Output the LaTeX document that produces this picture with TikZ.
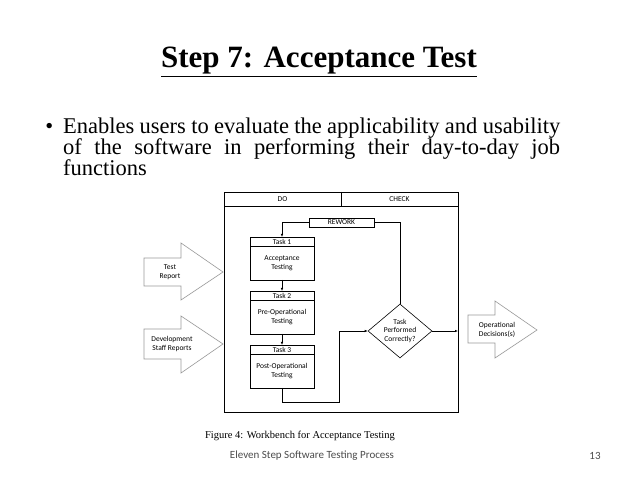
\documentclass[tikz,border=0pt]{standalone}
\usepackage{fontspec}
\setmainfont{Liberation Serif}
\newfontfamily\dgf{Carlito}
\usetikzlibrary{shapes.geometric,arrows.meta}
\begin{document}
\begin{tikzpicture}[x=1pt,y=-1pt,
  box/.style={draw,line width=0.6pt},
  dtxt/.style={font=\dgf\fontsize{7.5}{8.5}\selectfont,align=center,inner sep=0},
  conn/.style={line width=0.6pt,-{Latex[length=3pt,width=2.5pt]}},
  bigarrow/.style={draw=gray!80,line width=0.6pt,fill=white}]
\useasboundingbox[fill=white] (0,0) rectangle (638,478);
\node[font=\bfseries\fontsize{31}{34}\selectfont] (title) at (319,62) {\underline{Step 7: Acceptance Test}};
\node[anchor=north west,inner sep=0,text width=497pt,align=justify,font=\fontsize{22.5}{21}\selectfont] (bul) at (63,118)
 {\hyphenpenalty=10000\makebox[0pt][r]{\textbullet\hspace{10pt}}Enables users to evaluate the applicability and usability\linebreak of the software in performing their day-to-day job\linebreak functions};
% outer
\draw[box] (224,192) rectangle (458,412);
\draw[box] (224,206) -- (458,206) (341,192) -- (341,206);
\node[dtxt] (do) at (282.5,199) {DO};
\node[dtxt] (check) at (399.5,199) {CHECK};
% rework
\node[box,dtxt,minimum width=65pt,minimum height=9pt] (rw) at (341.5,222.5) {REWORK};
% tasks
\foreach \n/\y/\t in {1/237/{Acceptance\\Testing},2/291/{Pre-Operational\\Testing},3/345/{Post-Operational\\Testing}}{
  \draw[box] (250,\y) rectangle (314,\y+43);
  \draw[box] (250,\y+9) -- (314,\y+9);
  \node[dtxt] (h\n) at (282,\y+4.5) {Task \n};
  \node[dtxt] (b\n) at (282,\y+26) {\t};
  \coordinate (t\n) at (282,\y);
  \coordinate (e\n) at (282,\y+43);
}
\node[draw,line width=0.6pt,diamond,aspect=1.2,minimum width=64pt,minimum height=54pt,inner sep=0] (dia) at (400,331) {};
\node[dtxt] (diat) at (400,331) {Task\\Performed\\Correctly?};
\draw[conn] (e1) -- (t2);
\draw[conn] (e2) -- (t3);
\draw[line width=0.6pt] (dia.north) |- (rw.east);
\draw[conn] (rw.west) -| (t1);
\draw[conn] (e3) |- (339,402) |- (dia.west);
\coordinate (rb) at (458,331);
\draw[conn] (dia.east) -- (rb);
% big arrows
\draw[bigarrow] (144,258) -- (181,258) -- (181,243) -- (223,272) -- (181,300) -- (181,286) -- (144,286) -- cycle;
\node[dtxt] (tr) at (170,272) {Test\\Report};
\draw[bigarrow] (144,329) -- (181,329) -- (181,316) -- (223,344) -- (181,373) -- (181,359) -- (144,359) -- cycle;
\node[dtxt] (dsr) at (172,344) {Development\\Staff Reports};
\draw[bigarrow] (468,315) -- (495,315) -- (495,301) -- (537,330) -- (495,358) -- (495,343) -- (468,343) -- cycle;
\node[dtxt] (od) at (497,330) {Operational\\Decisions(s)};
\node[font=\fontsize{10.5}{12}\selectfont] (cap) at (300,436) {Figure 4: Workbench for Acceptance Testing};
\node[font=\dgf\fontsize{11}{12}\selectfont,text=black!70] (foot) at (312,456) {Eleven Step Software Testing Process};
\node[font=\dgf\fontsize{11}{12}\selectfont,text=black!70] (pg) at (595,456) {13};
\end{tikzpicture}
\end{document}
